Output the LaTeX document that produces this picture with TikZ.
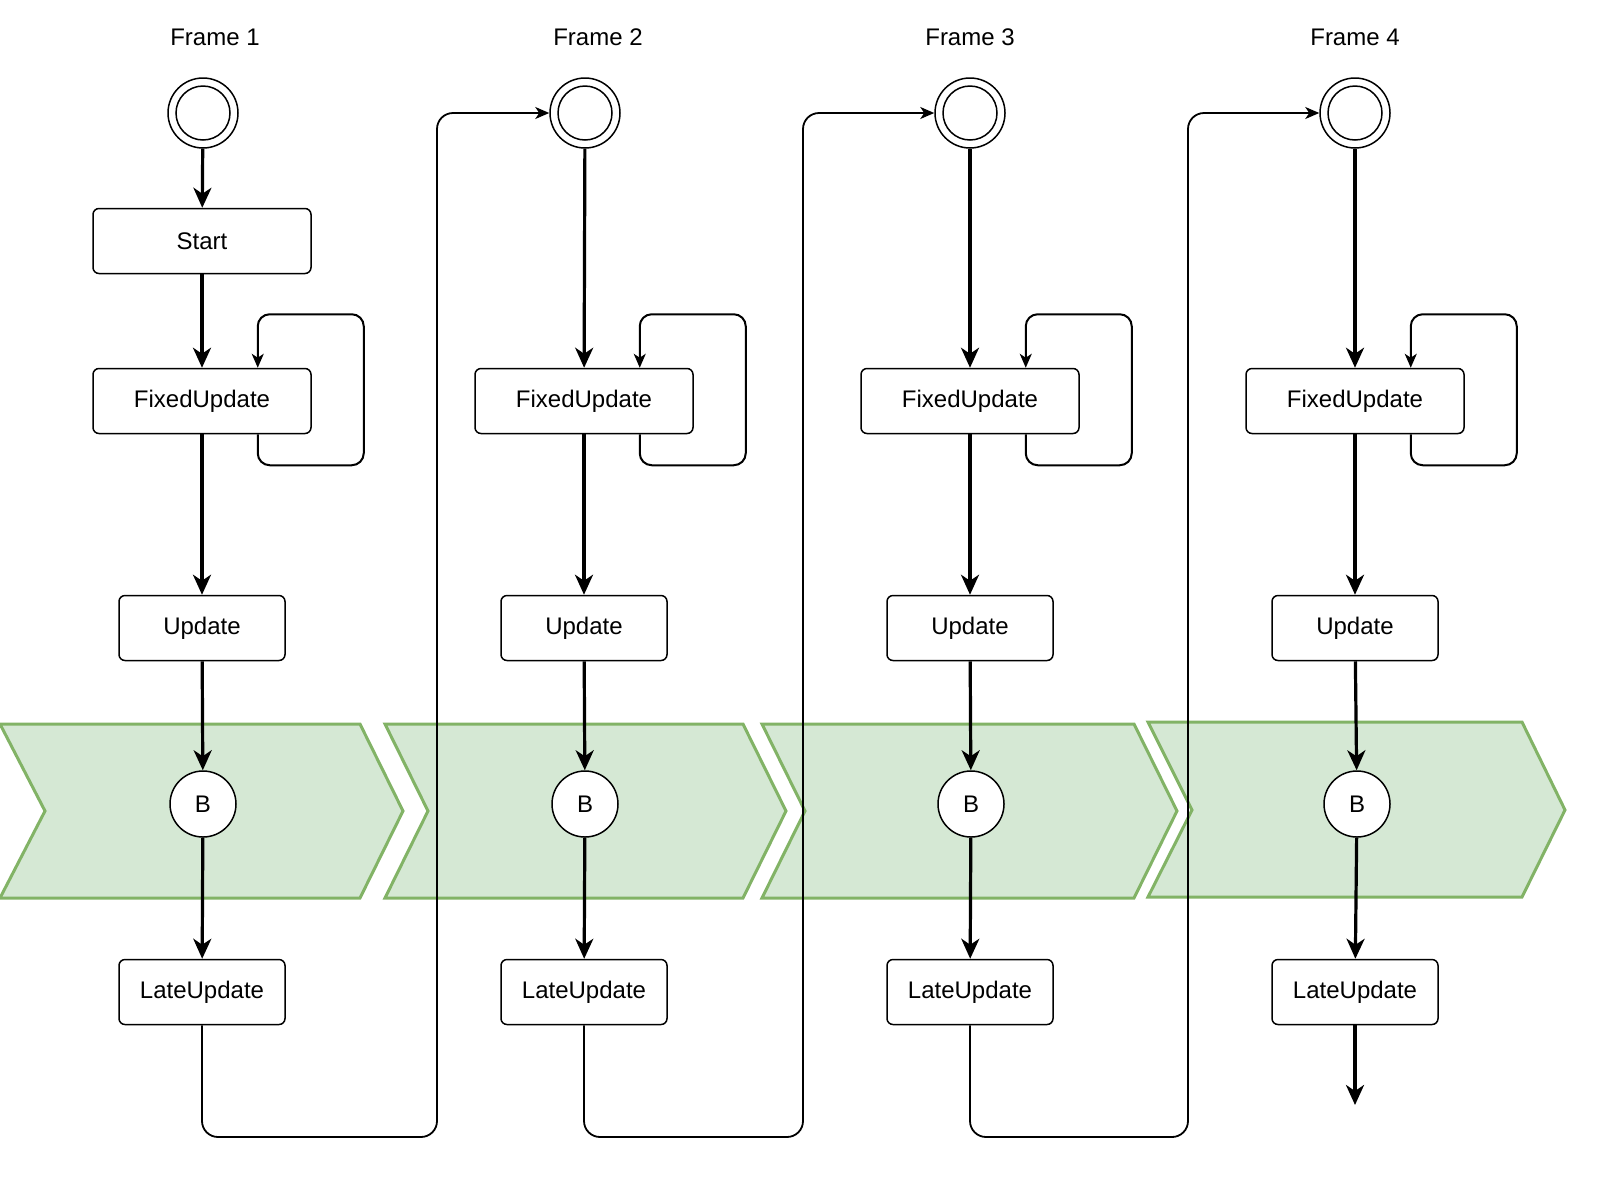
\documentclass[tikz,border=0pt]{standalone}
\usepackage{fontspec}
\setmainfont{Liberation Sans}
\usetikzlibrary{arrows.meta,calc}
\begin{document}
\begin{tikzpicture}[x=0.5pt,y=-0.5pt,
  every node/.style={font=\fontsize{12}{14}\selectfont},
  box/.style={draw,fill=white,line width=0.75pt,rounded corners=3pt,minimum height=32.5pt,inner sep=0pt},
  wbox/.style={box,minimum width=109pt},
  nbox/.style={box,minimum width=83pt},
  bc/.style={draw,fill=white,line width=0.75pt,circle,minimum size=33pt,inner sep=0pt},
  st/.style={draw,fill=white,line width=0.75pt,circle,minimum size=35pt,inner sep=0pt,
    path picture={\draw[line width=0.75pt] (path picture bounding box.center) circle (13.5pt);}},
  main/.style={line width=1.6pt,-{Stealth[length=10pt,width=9pt,inset=3pt]}},
  loop/.style={line width=1pt,rounded corners=6pt,-{Stealth[length=7pt,width=6pt,inset=2pt]}},
  conn/.style={line width=0.9pt,rounded corners=8pt,-{Stealth[length=7pt,width=6pt,inset=2pt]}},
  chev/.style={fill={rgb,255:red,213;green,232;blue,212},draw={rgb,255:red,130;green,179;blue,102},line width=1.5pt}]
\useasboundingbox (0,0) rectangle (1600,1179);
% chevrons
\draw[chev] (0,724)--(360,724)--(403,811)--(360,898)--(0,898)--(45,811)--cycle;
\draw[chev] (385,724)--(743,724)--(786,811)--(743,898)--(385,898)--(428,811)--cycle;
\draw[chev] (762,724)--(1134,724)--(1177,811)--(1134,898)--(762,898)--(805,811)--cycle;
\draw[chev] (1148,722)--(1522,722)--(1565,810)--(1522,897)--(1148,897)--(1192,810)--cycle;
% titles
\node (t1) at (215,37) {Frame 1};
\node (t2) at (598,37) {Frame 2};
\node (t3) at (970,37) {Frame 3};
\node (t4) at (1355,37) {Frame 4};
% frame 1
\node[st] (st1) at (203,113) {};
\node[wbox] (s1) at (202,241) {Start};
\node[wbox] (f1) at (202,401) {FixedUpdate};
\node[nbox] (u1) at (202,628) {Update};
\node[bc] (b1) at (203,804) {B};
\node[nbox] (l1) at (202,992) {LateUpdate};
% frame 2
\node[st] (st2) at (585,113) {};
\node[wbox] (f2) at (584,401) {FixedUpdate};
\node[nbox] (u2) at (584,628) {Update};
\node[bc] (b2) at (585,804) {B};
\node[nbox] (l2) at (584,992) {LateUpdate};
% frame 3
\node[st] (st3) at (970,113) {};
\node[wbox] (f3) at (970,401) {FixedUpdate};
\node[nbox] (u3) at (970,628) {Update};
\node[bc] (b3) at (971,804) {B};
\node[nbox] (l3) at (970,992) {LateUpdate};
% frame 4
\node[st] (st4) at (1355,113) {};
\node[wbox] (f4) at (1355,401) {FixedUpdate};
\node[nbox] (u4) at (1355,628) {Update};
\node[bc] (b4) at (1357,804) {B};
\node[nbox] (l4) at (1355,992) {LateUpdate};
\coordinate (end4) at (1355,1105);
% main arrows
\draw[main] (st1) -- (s1);
\draw[main] (s1) -- (f1);
\foreach \i in {2,3,4} \draw[main] (st\i) -- (f\i);
\foreach \i in {1,2,3,4} {
  \draw[main] (f\i) -- (u\i);
  \draw[main] (u\i) -- (b\i);
  \draw[main] (b\i) -- (l\i);
  \draw[loop] ($(f\i.south east)+(-54,0)$) coordinate (a\i) -- ++(0,31) -- ++(106,0) -- ++(0,-151) -- ++(-106,0) -- (a\i |- f\i.north);
}
\draw[main] (l4) -- (end4);
% connectors
\draw[conn] (l1.south) |- (437,1137) |- (st2.west);
\draw[conn] (l2.south) |- (803,1137) |- (st3.west);
\draw[conn] (l3.south) |- (1188,1137) |- (st4.west);
\end{tikzpicture}
\end{document}
